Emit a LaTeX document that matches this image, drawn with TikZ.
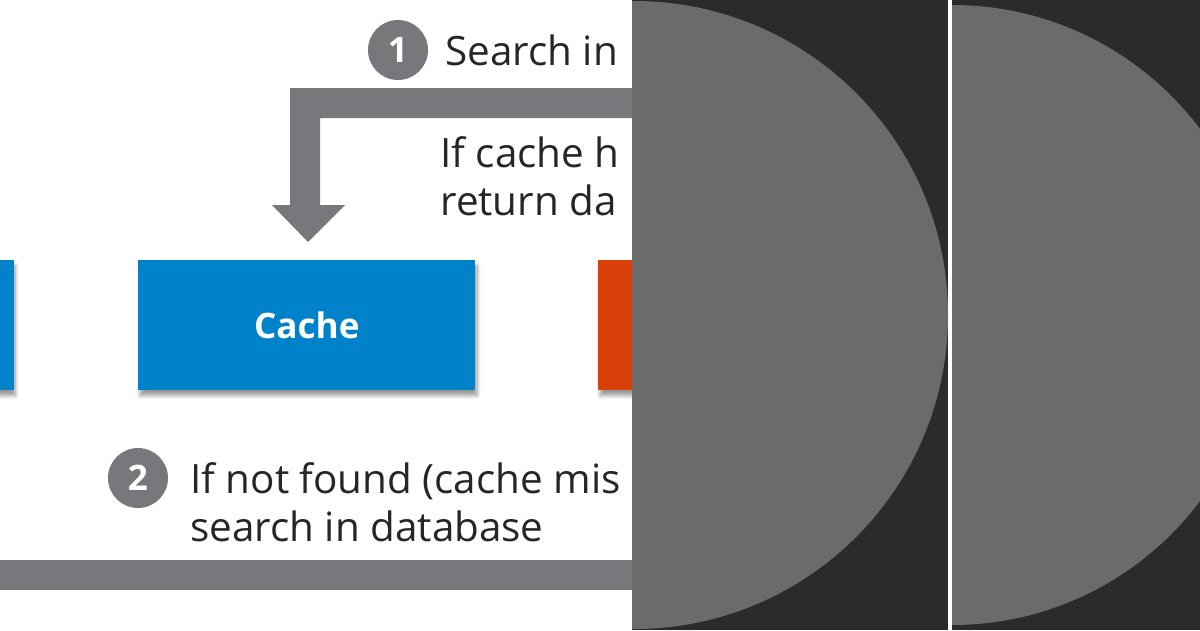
\documentclass[tikz,border=0pt]{standalone}
\usepackage{fontspec}
\setmainfont{Open Sans}
\usetikzlibrary{positioning,shadows.blur}
\definecolor{cacheblue}{HTML}{0082CA}
\definecolor{dborange}{HTML}{D9400A}
\definecolor{flowgray}{HTML}{77787B}
\definecolor{panel}{HTML}{2B2B2B}
\definecolor{disc}{HTML}{6B6B6B}
\begin{document}
\begin{tikzpicture}[x=0.02cm,y=-0.02cm,
    box/.style={draw=none,minimum width=6.74cm,minimum height=2.6cm,
      blur shadow={shadow xshift=1pt,shadow yshift=-3pt,shadow blur steps=8},
      text=white,font=\fontsize{20}{24}\selectfont\bfseries},
    badge/.style={circle,fill=flowgray,minimum size=1.2cm,inner sep=0pt,
      text=white,font=\fontsize{20}{24}\selectfont\bfseries},
    note/.style={anchor=west,align=left,inner sep=0pt,
      font=\fontsize{23}{27.5}\selectfont,text=black!85},
  ]
  \useasboundingbox (0,0) rectangle (1200,630);
  \begin{scope}
  \clip (0,0) rectangle (1200,630);
  % boxes
  \node[box,fill=cacheblue,anchor=north east] (client) at (14,260) {};
  \node[box,fill=cacheblue,anchor=north west] (cache) at (138,260) {Cache};
  \node[box,fill=dborange,anchor=north west] (db) at (598,260) {};
  % arrow into cache
  \fill[flowgray] (640,88) -- (290,88) -- (290,205) -- (272,205) -- (308,242)
    -- (345,205) -- (320,205) -- (320,118) -- (640,118) -- cycle;
  % bottom band
  \fill[flowgray] (0,560) rectangle (640,590);
  % steps
  \node[badge] (one) at (398,50) {1};
  \node[note] (search) at (445,50) {Search in};
  \node[note] (hit) at (440,176) {If cache h\\return da};
  \node[badge] (two) at (138,478) {2};
  \node[note] (miss) at (190,502) {If not found (cache mis\\search in database};
  % panels
  \fill[panel] (632,0) rectangle (948,630);
  \fill[panel] (952,0) rectangle (1200,630);
  \begin{scope}
    \clip (632,0) rectangle (948,630);
    \fill[disc] (634,315) circle[radius=314];
  \end{scope}
  \begin{scope}
    \clip (952,0) rectangle (1200,630);
    \fill[disc] (952,315) circle[radius=310];
  \end{scope}
  \end{scope}
\end{tikzpicture}
\end{document}
